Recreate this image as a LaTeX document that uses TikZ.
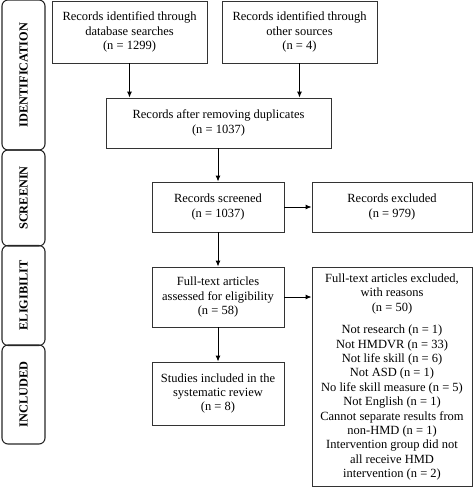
\documentclass[tikz,border=0pt]{standalone}
\usepackage{fontspec}
\setmainfont{Liberation Serif}
\usetikzlibrary{arrows.meta}
\begin{document}
\begin{tikzpicture}[x=1pt,y=-1pt,
  box/.style={draw=black!80, line width=0.9pt, align=center, inner sep=0pt,
    font=\fontsize{12.5}{14.4}\selectfont},
  side/.style={draw=black!85, line width=1.1pt, rounded corners=6pt, rotate=90,
    minimum height=43pt, inner sep=0pt, font=\fontsize{12.3}{14}\selectfont\bfseries},
  arr/.style={line width=0.9pt, -{Latex[length=6pt,width=5pt]}}]
\useasboundingbox (0,0) rectangle (474,495);
% side labels
\node[side, minimum width=150pt] (sid) at (23.5,75) {IDENTIFICATION};
\node[side, minimum width=96pt] (ssc) at (23.5,198) {SCREENIN};
\node[side, minimum width=100pt] (sel) at (23.5,295.5) {ELIGIBILIT};
\node[side, minimum width=99pt] (sin) at (23.5,394.5) {INCLUDED};
% boxes
\node[box, minimum width=155pt, minimum height=62pt] (id1) at (129.5,32)
  {Records identified through\\database searches\\(n = 1299)};
\node[box, minimum width=155pt, minimum height=62pt] (id2) at (299.5,32)
  {Records identified through\\other sources\\(n = 4)};
\node[box, minimum width=225pt, minimum height=50pt] (dup) at (218.5,123)
  {Records after removing duplicates\\(n = 1037)};
\node[box, minimum width=132pt, minimum height=50pt] (scr) at (218,207)
  {Records screened\\(n = 1037)};
\node[box, minimum width=160pt, minimum height=50pt] (ex1) at (392,207)
  {Records excluded\\(n = 979)};
\node[box, minimum width=132pt, minimum height=60pt] (ft) at (218,297)
  {Full-text articles\\assessed for eligibility\\(n = 58)};
\node[box, minimum width=160pt, minimum height=219pt] (ex2) at (392,377)
  {Full-text articles excluded,\\with reasons\\(n = 50)\\[8pt]
   Not research (n = 1)\\Not HMDVR (n = 33)\\Not life skill (n = 6)\\Not ASD (n = 1)\\
   No life skill measure (n = 5)\\Not English (n = 1)\\Cannot separate results from\\
   non-HMD (n = 1)\\Intervention group did not\\all receive HMD\\intervention (n = 2)};
\node[box, minimum width=132pt, minimum height=63pt] (inc) at (218,393.5)
  {Studies included in the\\systematic review\\(n = 8)};
% arrows
\draw[arr] (id1.south) -- (id1.south |- dup.north);
\draw[arr] (id2.south) -- (id2.south |- dup.north);
\draw[arr] (dup.south -| scr.north) -- (scr.north);
\draw[arr] (scr.south) -- (ft.north);
\draw[arr] (ft.south) -- (inc.north);
\draw[arr] (scr.east) -- (ex1.west);
\draw[arr] (ft.east) -- (ex2.west |- ft.east);
\end{tikzpicture}
\end{document}
